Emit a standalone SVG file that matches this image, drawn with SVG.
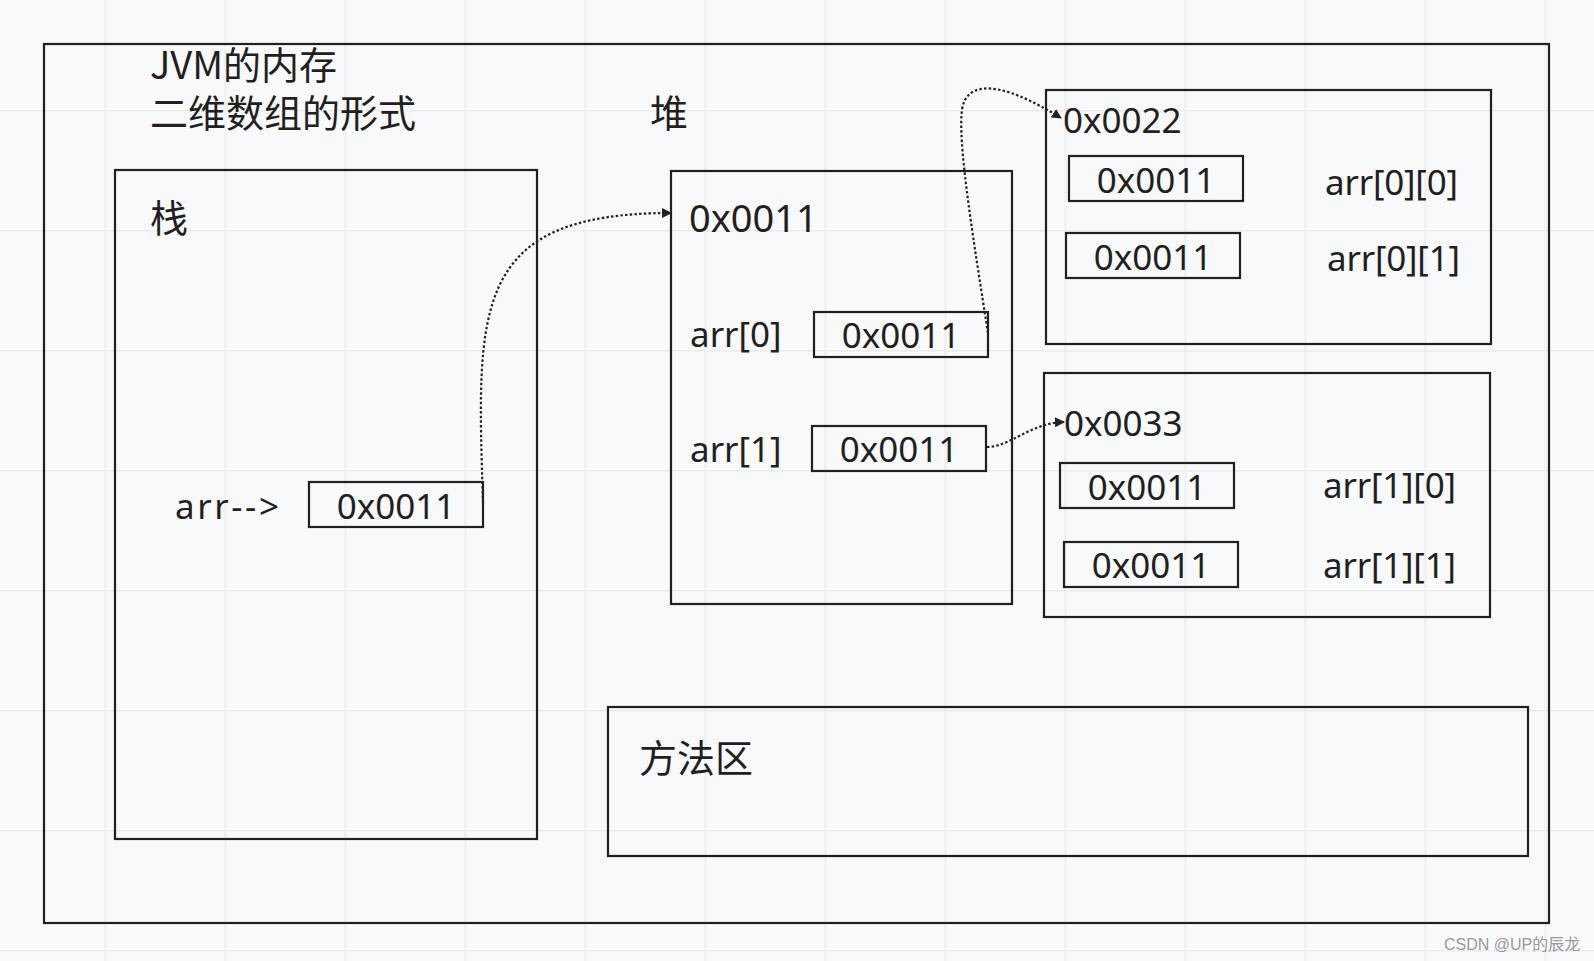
<svg xmlns="http://www.w3.org/2000/svg" width="1594" height="961" viewBox="0 0 1594 961">
<defs>
<pattern id="grid" x="104.5" y="-10" width="120" height="120" patternUnits="userSpaceOnUse">
<path d="M0.75 0 V120 M0 0.75 H120" fill="none" stroke="#ebecef" stroke-width="1.5"/>
</pattern>
<marker id="arr" viewBox="0 0 10 10" refX="9" refY="5" markerWidth="10" markerHeight="10" markerUnits="userSpaceOnUse" orient="auto">
<path d="M0 0 L10 5 L0 10 Z" fill="#1f2329"/>
</marker>
<style>
.box{fill:none;stroke:#231f20;stroke-width:2.2}
.t{font-family:"Noto Sans","Noto Sans CJK SC",sans-serif;fill:#231f20}
.c{font-family:"Noto Sans CJK SC","Noto Sans",sans-serif;fill:#231f20;font-size:38px}
.m{font-size:35px}
.mid{text-anchor:middle}
.con{fill:none;stroke:#1f2329;stroke-width:2.2;stroke-dasharray:2.5 2.2}
</style>
</defs>
<rect width="1594" height="961" fill="#f8f9fb"/>
<rect width="1594" height="961" fill="url(#grid)"/>

<g id="jvm">
<rect class="box" x="44" y="44" width="1505" height="879"/>
<text class="c" x="150" y="79">JVM的内存<tspan x="150" dy="48">二维数组的形式</tspan></text>
</g>

<g id="stack">
<rect class="box" x="115" y="170" width="422" height="669"/>
<text class="c" x="150" y="232">栈</text>
<text class="t m" x="175" y="519" textLength="104" lengthAdjust="spacing">arr--&gt;</text>
</g>
<g id="stack-arr">
<rect class="box" x="309" y="482" width="174" height="45"/>
<text class="t m mid" x="396" y="519">0x0011</text>
</g>

<g id="heap-label">
<text class="c" x="650" y="127">堆</text>
</g>

<g id="heap">
<rect class="box" x="671" y="171" width="341" height="433"/>
<text class="t" x="689" y="232" font-size="38">0x0011</text>
<text class="t m" x="690" y="347">arr[0]</text>
<text class="t m" x="690" y="462">arr[1]</text>
</g>
<g id="heap-arr0">
<rect class="box" x="814" y="312" width="174" height="45"/>
<text class="t m mid" x="901" y="348">0x0011</text>
</g>
<g id="heap-arr1">
<rect class="box" x="812" y="426" width="174" height="45"/>
<text class="t m mid" x="899" y="462">0x0011</text>
</g>

<g id="arr0-obj">
<rect class="box" x="1046" y="90" width="445" height="254"/>
<text class="t m" x="1063" y="133">0x0022</text>
<rect class="box" x="1069" y="156" width="174" height="45"/>
<text class="t m mid" x="1156" y="193">0x0011</text>
<rect class="box" x="1066" y="233" width="174" height="45"/>
<text class="t m mid" x="1153" y="270">0x0011</text>
<text class="t m" x="1325" y="195" textLength="133" lengthAdjust="spacing">arr[0][0]</text>
<text class="t m" x="1327" y="271" textLength="133" lengthAdjust="spacing">arr[0][1]</text>
</g>

<g id="arr1-obj">
<rect class="box" x="1044" y="373" width="446" height="244"/>
<text class="t m" x="1064" y="436">0x0033</text>
<rect class="box" x="1060" y="463" width="174" height="45"/>
<text class="t m mid" x="1147" y="500">0x0011</text>
<rect class="box" x="1064" y="542" width="174" height="45"/>
<text class="t m mid" x="1151" y="578">0x0011</text>
<text class="t m" x="1323" y="498" textLength="133" lengthAdjust="spacing">arr[1][0]</text>
<text class="t m" x="1323" y="578" textLength="133" lengthAdjust="spacing">arr[1][1]</text>
</g>

<g id="method-area">
<rect class="box" x="608" y="707" width="920" height="149"/>
<text class="c" x="639" y="772">方法区</text>
</g>

<g id="connectors">
<path class="con" d="M483 503 C477 310 470 213 671 213" marker-end="url(#arr)"/>
<path class="con" d="M988 333 C970 220 958 140 962 110 S1000 80 1061 118" marker-end="url(#arr)"/>
<path class="con" d="M987 447 C1010 447 1030 423 1064 422" marker-end="url(#arr)"/>
</g>

<text x="1444" y="950" font-family="'Liberation Sans','Noto Sans CJK SC',sans-serif" font-size="16" fill="#9a9a9a">CSDN @UP的辰龙</text>
</svg>
